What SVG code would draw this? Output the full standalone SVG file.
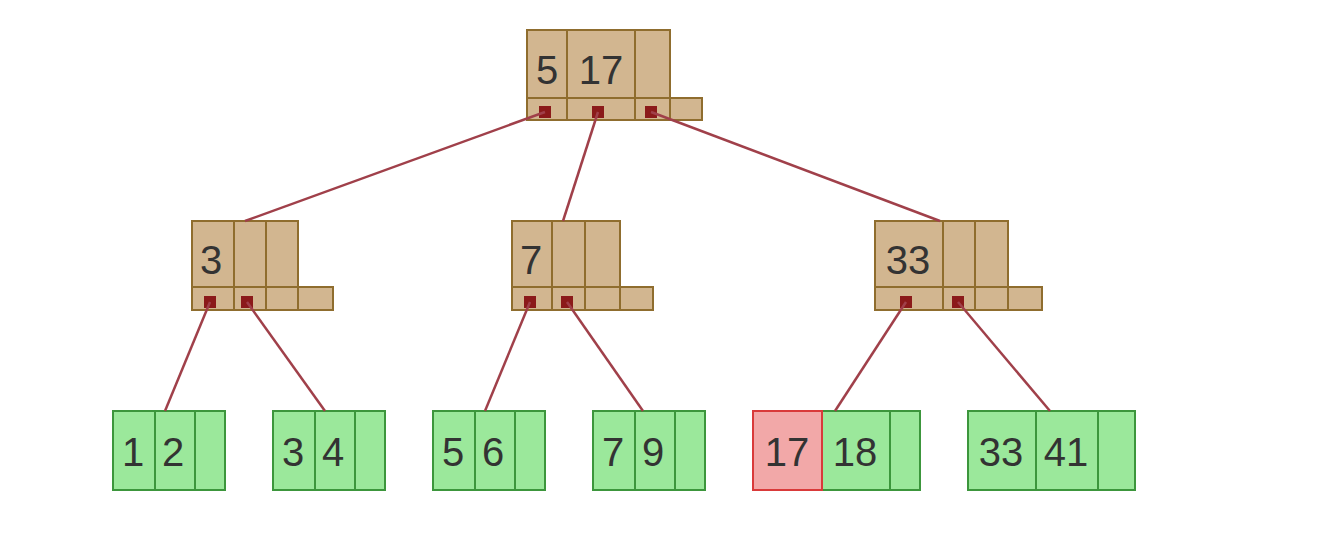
<svg xmlns="http://www.w3.org/2000/svg" width="1342" height="534" viewBox="0 0 1342 534">
<style>
.b{fill:#d2b690;stroke:#8f6d2e;stroke-width:2}
.g{fill:#9be89b;stroke:#3c963c;stroke-width:2}
.r{fill:#f2a8a8;stroke:#d93a3a;stroke-width:2}
.p{fill:#8b1a1a}
text{font-family:"Liberation Sans",Arial,sans-serif;font-size:40px;fill:#333}
.e{stroke:#a0404a;stroke-width:2.5;fill:none}
</style>
<g id="root">
<rect class="b" x="527" y="30" width="40" height="68"/><rect class="b" x="567" y="30" width="68" height="68"/><rect class="b" x="635" y="30" width="35" height="68"/>
<rect class="b" x="527" y="98" width="40" height="22"/><rect class="b" x="567" y="98" width="68" height="22"/><rect class="b" x="635" y="98" width="35" height="22"/><rect class="b" x="670" y="98" width="32" height="22"/>
<rect class="p" x="539" y="106" width="12" height="12"/><rect class="p" x="592" y="106" width="12" height="12"/><rect class="p" x="645" y="106" width="12" height="12"/>
<text x="547" y="84" text-anchor="middle">5</text><text x="601" y="84" text-anchor="middle">17</text>
</g>
<g id="n3">
<rect class="b" x="192" y="221" width="42" height="66"/><rect class="b" x="234" y="221" width="32" height="66"/><rect class="b" x="266" y="221" width="32" height="66"/>
<rect class="b" x="192" y="287" width="42" height="23"/><rect class="b" x="234" y="287" width="32" height="23"/><rect class="b" x="266" y="287" width="32" height="23"/><rect class="b" x="298" y="287" width="35" height="23"/>
<rect class="p" x="204" y="296" width="12" height="12"/><rect class="p" x="241" y="296" width="12" height="12"/>
<text x="211" y="274" text-anchor="middle">3</text>
</g>
<g id="n7">
<rect class="b" x="512" y="221" width="40" height="66"/><rect class="b" x="552" y="221" width="33" height="66"/><rect class="b" x="585" y="221" width="35" height="66"/>
<rect class="b" x="512" y="287" width="40" height="23"/><rect class="b" x="552" y="287" width="33" height="23"/><rect class="b" x="585" y="287" width="35" height="23"/><rect class="b" x="620" y="287" width="33" height="23"/>
<rect class="p" x="524" y="296" width="12" height="12"/><rect class="p" x="561" y="296" width="12" height="12"/>
<text x="531" y="274" text-anchor="middle">7</text>
</g>
<g id="n33">
<rect class="b" x="875" y="221" width="68" height="66"/><rect class="b" x="943" y="221" width="32" height="66"/><rect class="b" x="975" y="221" width="33" height="66"/>
<rect class="b" x="875" y="287" width="68" height="23"/><rect class="b" x="943" y="287" width="32" height="23"/><rect class="b" x="975" y="287" width="33" height="23"/><rect class="b" x="1008" y="287" width="34" height="23"/>
<rect class="p" x="900" y="296" width="12" height="12"/><rect class="p" x="952" y="296" width="12" height="12"/>
<text x="908" y="274" text-anchor="middle">33</text>
</g>
<g id="l1"><rect class="g" x="113" y="411" width="42" height="79"/><rect class="g" x="155" y="411" width="40" height="79"/><rect class="g" x="195" y="411" width="30" height="79"/><text x="133" y="466" text-anchor="middle">1</text><text x="173" y="466" text-anchor="middle">2</text></g>
<g id="l2"><rect class="g" x="273" y="411" width="42" height="79"/><rect class="g" x="315" y="411" width="40" height="79"/><rect class="g" x="355" y="411" width="30" height="79"/><text x="293" y="466" text-anchor="middle">3</text><text x="333" y="466" text-anchor="middle">4</text></g>
<g id="l3"><rect class="g" x="433" y="411" width="42" height="79"/><rect class="g" x="475" y="411" width="40" height="79"/><rect class="g" x="515" y="411" width="30" height="79"/><text x="453" y="466" text-anchor="middle">5</text><text x="493" y="466" text-anchor="middle">6</text></g>
<g id="l4"><rect class="g" x="593" y="411" width="42" height="79"/><rect class="g" x="635" y="411" width="40" height="79"/><rect class="g" x="675" y="411" width="30" height="79"/><text x="613" y="466" text-anchor="middle">7</text><text x="653" y="466" text-anchor="middle">9</text></g>
<g id="l5"><rect class="g" x="822" y="411" width="68" height="79"/><rect class="g" x="890" y="411" width="30" height="79"/><rect class="r" x="753" y="411" width="69" height="79"/><text x="787" y="466" text-anchor="middle">17</text><text x="855" y="466" text-anchor="middle">18</text></g>
<g id="l6"><rect class="g" x="968" y="411" width="68" height="79"/><rect class="g" x="1036" y="411" width="62" height="79"/><rect class="g" x="1098" y="411" width="37" height="79"/><text x="1001" y="466" text-anchor="middle">33</text><text x="1066" y="466" text-anchor="middle">41</text></g>
<g id="edges">
<line class="e" x1="545" y1="112" x2="245" y2="221"/>
<line class="e" x1="598" y1="112" x2="563" y2="221"/>
<line class="e" x1="651" y1="112" x2="940" y2="221"/>
<line class="e" x1="210" y1="302" x2="165" y2="411"/>
<line class="e" x1="247" y1="302" x2="325" y2="411"/>
<line class="e" x1="530" y1="302" x2="485" y2="411"/>
<line class="e" x1="567" y1="302" x2="643" y2="411"/>
<line class="e" x1="906" y1="302" x2="835" y2="411"/>
<line class="e" x1="958" y1="302" x2="1050" y2="411"/>
</g>
</svg>
